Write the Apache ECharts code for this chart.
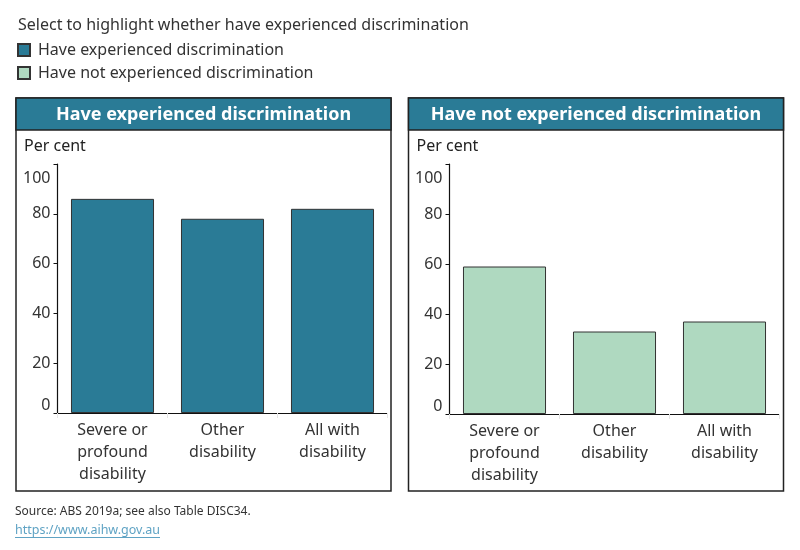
<!DOCTYPE html>
<html>
<head>
<meta charset="utf-8">
<script src="https://cdn.jsdelivr.net/npm/echarts@6/dist/echarts.min.js"></script>
<style>
  html, body { margin: 0; padding: 0; background: #fff; }
  #chart { width: 800px; height: 550px; }
</style>
</head>
<body>
<div id="chart"></div>
<script>
// data
var categories = ['Severe or\nprofound\ndisability', 'Other\ndisability', 'All with\ndisability'];
var experienced = [86, 78, 82];
var notExperienced = [59, 33, 37];
var yTicks = [0, 20, 40, 60, 80, 100];

var seriesNames = ['Have experienced discrimination', 'Have not experienced discrimination'];
var darkTeal = '#2a7b96';
var lightGreen = '#afd9c0';
var font = 'Noto Sans';

var myChart = echarts.init(document.getElementById('chart'));

function panel(x, w, title) {
    return [
        { type: 'rect', shape: { x: x, y: 98, width: w, height: 393 },
          style: { fill: 'none', stroke: '#222', lineWidth: 1.5 } },
        { type: 'rect', shape: { x: x, y: 98, width: w, height: 32 },
          style: { fill: darkTeal, stroke: '#222', lineWidth: 1.5 } },
        { type: 'text', x: x + w / 2, y: 115,
          style: { text: title, fill: '#fff', font: 'bold 18px ' + font, align: 'center', verticalAlign: 'middle' } },
        { type: 'text', x: x + 8, y: 146,
          style: { text: 'Per cent', fill: '#222', font: '16px ' + font, verticalAlign: 'middle' } }
    ];
}

function yAxis(idx) {
    var top = yTicks[yTicks.length - 1];
    return {
        gridIndex: idx, type: 'value', min: yTicks[0], max: top, interval: 20,
        splitLine: { show: false },
        axisLine: { show: true, lineStyle: { color: '#111', width: 1.2 } },
        axisTick: { show: true, length: 4, lineStyle: { color: '#111' } },
        axisLabel: {
            color: '#333', fontSize: 16, fontFamily: font, margin: 7,
            verticalAlignMinLabel: 'bottom', verticalAlignMaxLabel: 'top',
            formatter: function (v) { return v === top ? '{max|' + v + '}' : String(v); },
            rich: { max: { color: '#333', fontSize: 16, fontFamily: font, padding: [6, 0, 0, 0] } }
        }
    };
}

function xAxis(idx) {
    return {
        gridIndex: idx, type: 'category', data: categories,
        axisLine: { lineStyle: { color: '#111', width: 1.2 } },
        axisTick: { show: true, length: 5, lineStyle: { color: '#e6e6e6' } },
        axisLabel: { color: '#333', fontSize: 16, fontFamily: font, lineHeight: 22, margin: 6, interval: 0 }
    };
}

var option = {
    animation: false,
    title: {
        text: 'Select to highlight whether have experienced discrimination',
        left: 13, top: 12,
        textStyle: { color: '#333', fontSize: 16, fontWeight: 'normal', fontFamily: font }
    },
    legend: {
        orient: 'vertical', left: 17, top: 42, itemGap: 7, padding: 0,
        icon: 'rect', itemWidth: 12, itemHeight: 12,
        data: seriesNames,
        textStyle: { color: '#333', fontSize: 16, fontFamily: font, padding: [0, 0, 0, 3] }
    },
    grid: [
        { left: 57.5, right: 412.5, top: 164, bottom: 137 },
        { left: 449.5, right: 20.5, top: 164, bottom: 136 }
    ],
    xAxis: [xAxis(0), xAxis(1)],
    yAxis: [yAxis(0), yAxis(1)],
    series: [{
        name: seriesNames[0], type: 'bar', xAxisIndex: 0, yAxisIndex: 0,
        data: experienced, barCategoryGap: '24.5%',
        itemStyle: { color: darkTeal, borderColor: '#333', borderWidth: 1 }
    }, {
        name: seriesNames[1], type: 'bar', xAxisIndex: 1, yAxisIndex: 1,
        data: notExperienced, barCategoryGap: '24.5%',
        itemStyle: { color: lightGreen, borderColor: '#333', borderWidth: 1 }
    }],
    graphic: panel(16, 375, 'Have experienced discrimination')
        .concat(panel(408.5, 375, 'Have not experienced discrimination'))
        .concat([
            { type: 'text', x: 15, y: 512,
              style: { text: 'Source: ABS 2019a; see also Table DISC34.', fill: '#333', font: '12px ' + font, verticalAlign: 'middle' } },
            { type: 'text', x: 15, y: 530,
              style: { text: 'https://www.aihw.gov.au', fill: '#5fa3c4', font: '12.5px ' + font, verticalAlign: 'middle' } },
            { type: 'line', shape: { x1: 15, y1: 537.5, x2: 160, y2: 537.5 },
              style: { stroke: '#5fa3c4', lineWidth: 1 } }
        ])
};

myChart.setOption(option);
</script>
</body>
</html>
